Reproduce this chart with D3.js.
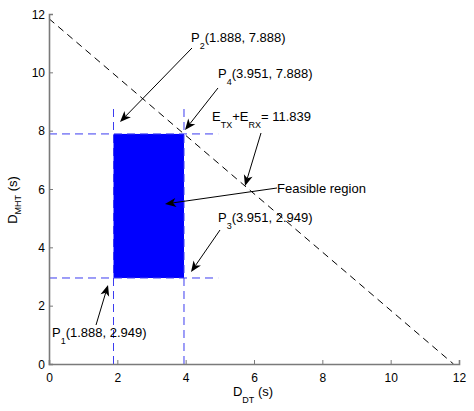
<!DOCTYPE html>
<html>
<head>
<meta charset="utf-8">
<script src="https://cdn.jsdelivr.net/npm/d3@7/dist/d3.min.js"></script>
<style>
  html, body { margin: 0; padding: 0; background: #fff; }
  svg { display: block; font-family: "Liberation Sans", Arial, Helvetica, sans-serif; }
</style>
</head>
<body>
<svg id="chart" width="474" height="411"></svg>
<script>
// ---- data ----
const xTicks = [0, 2, 4, 6, 8, 10, 12];
const yTicks = [0, 2, 4, 6, 8, 10, 12];
const xDomain = [0, 12];
const yDomain = [0, 12];
const energyBudget = 11.839;            // E_TX + E_RX, dashed constraint line
const cornerX = [1.888, 3.951];         // P1/P2 x, P3/P4 x
const cornerY = [2.949, 7.888];         // P1/P3 y, P2/P4 y
const guideOvershoot = 1;               // guide lines extend 1 unit beyond the region

// annotation labels (TeX-like: _{..} = subscript) and their anchors, in data units
const annoLabels = [
  "P_{2}(1.888, 7.888)",
  "P_{4}(3.951, 7.888)",
  "E_{TX}+E_{RX}= 11.839",
  "Feasible region",
  "P_{3}(3.951, 2.949)",
  "P_{1}(1.888, 2.949)"
];
const annoTextX = [4.156, 4.946, 4.771, 6.673, 4.946, 0.088];
const annoTextY = [11.211, 9.943, 8.469, 6.034, 5.040, 1.063];
const arrowTailX = [4.185, 4.946, 6.205, 6.673, 5.005, 1.376];
const arrowTailY = [10.834, 9.463, 7.920, 6.034, 4.594, 1.337];
const arrowHeadX = [2.078, 3.980, 5.737, 3.395, 4.156, 1.727];
const arrowHeadY = [8.297, 8.023, 6.103, 5.486, 3.154, 2.709];

const xLabel = "D_{DT} (s)";
const yLabel = "D_{MHT} (s)";

// ---- layout ----
const svg = d3.select("#chart");
const mLeft = 49, mRight = 459, mTop = 14, mBottom = 364;
const x = d3.scaleLinear().domain(xDomain).range([mLeft, mRight]);
const y = d3.scaleLinear().domain(yDomain).range([mBottom, mTop]);

function addTex(sel, str, subSize, subShift) {
  const re = /_\{([^}]*)\}/g;
  let last = 0, m, shifted = false;
  while ((m = re.exec(str)) !== null) {
    if (m.index > last) {
      sel.append("tspan").attr("dy", shifted ? -subShift : 0).text(str.slice(last, m.index));
      shifted = false;
    }
    sel.append("tspan").attr("font-size", subSize).attr("dy", shifted ? 0 : subShift).text(m[1]);
    shifted = true;
    last = re.lastIndex;
  }
  if (last < str.length) {
    sel.append("tspan").attr("dy", shifted ? -subShift : 0).text(str.slice(last));
  }
}

// feasible region
svg.append("rect")
  .attr("x", x(cornerX[0]))
  .attr("y", y(cornerY[1]))
  .attr("width", x(cornerX[1]) - x(cornerX[0]))
  .attr("height", y(cornerY[0]) - y(cornerY[1]))
  .attr("fill", "#0000ff");

// blue dashed guides
const guideColor = "#3c3cf0";
cornerY.forEach(v => {
  svg.append("line")
    .attr("x1", x(0)).attr("y1", y(v))
    .attr("x2", x(cornerX[1] + guideOvershoot)).attr("y2", y(v))
    .attr("stroke", guideColor).attr("stroke-width", 1)
    .attr("stroke-dasharray", "8,5");
});
cornerX.forEach(v => {
  svg.append("line")
    .attr("x1", x(v)).attr("y1", y(0))
    .attr("x2", x(v)).attr("y2", y(cornerY[1] + guideOvershoot))
    .attr("stroke", guideColor).attr("stroke-width", 1)
    .attr("stroke-dasharray", "8,5");
});

// black dashed constraint line
svg.append("line")
  .attr("x1", x(0)).attr("y1", y(energyBudget))
  .attr("x2", x(energyBudget)).attr("y2", y(0))
  .attr("stroke", "#000").attr("stroke-width", 1)
  .attr("stroke-dasharray", "7,5");

// axes
const axisColor = "#7a7a7a";
const xAxis = d3.axisBottom(x).tickValues(xTicks).tickSize(-4).tickPadding(8).tickFormat(d3.format("d"));
const yAxis = d3.axisLeft(y).tickValues(yTicks).tickSize(-4).tickPadding(8).tickFormat(d3.format("d"));

const gx = svg.append("g").attr("transform", `translate(0,${mBottom})`).call(xAxis);
const gy = svg.append("g").attr("transform", `translate(${mLeft},0)`).call(yAxis);
[gx, gy].forEach(g => {
  g.select(".domain").attr("stroke", axisColor).attr("stroke-width", 1.6);
  g.selectAll(".tick line").attr("stroke", axisColor).attr("stroke-width", 1);
  g.selectAll(".tick text").attr("fill", "#000").attr("font-size", 12)
    .attr("font-family", "'Liberation Sans', Arial, sans-serif");
});
gx.selectAll(".tick text").attr("dy", "0.71em").attr("y", 9);
gy.selectAll(".tick text").attr("x", -4).attr("dy", "0.35em");

// axis labels
const xl = svg.append("text")
  .attr("x", (mLeft + mRight) / 2 - 1).attr("y", 396)
  .attr("text-anchor", "middle").attr("font-size", 13).attr("fill", "#000");
addTex(xl, xLabel, 9, 7);

const yl = svg.append("text")
  .attr("transform", `translate(17,${(mTop + mBottom) / 2 + 11}) rotate(-90)`)
  .attr("text-anchor", "middle").attr("font-size", 13).attr("fill", "#000");
addTex(yl, yLabel, 9, 4);

// annotations
const headLen = 11, headHalf = 4.5, notch = 3;
annoLabels.forEach((lab, i) => {
  const x1 = x(arrowTailX[i]), y1 = y(arrowTailY[i]);
  const x2 = x(arrowHeadX[i]), y2 = y(arrowHeadY[i]);
  const ang = Math.atan2(y2 - y1, x2 - x1);
  const ca = Math.cos(ang), sa = Math.sin(ang);
  const bx = x2 - (headLen - notch) * ca, by = y2 - (headLen - notch) * sa;
  svg.append("line")
    .attr("x1", x1).attr("y1", y1).attr("x2", bx).attr("y2", by)
    .attr("stroke", "#000").attr("stroke-width", 1);
  const pt = (lx, ly) => [x2 + lx * ca - ly * sa, y2 + lx * sa + ly * ca];
  const pts = [pt(0, 0), pt(-headLen, headHalf), pt(-(headLen - notch), 0), pt(-headLen, -headHalf)];
  svg.append("path")
    .attr("d", "M" + pts.map(p => p.join(",")).join("L") + "Z")
    .attr("fill", "#000");

  const t = svg.append("text")
    .attr("x", x(annoTextX[i])).attr("y", y(annoTextY[i]) + 4.5)
    .attr("font-size", 13).attr("fill", "#000");
  addTex(t, lab, 9, 7);
});
</script>
</body>
</html>
